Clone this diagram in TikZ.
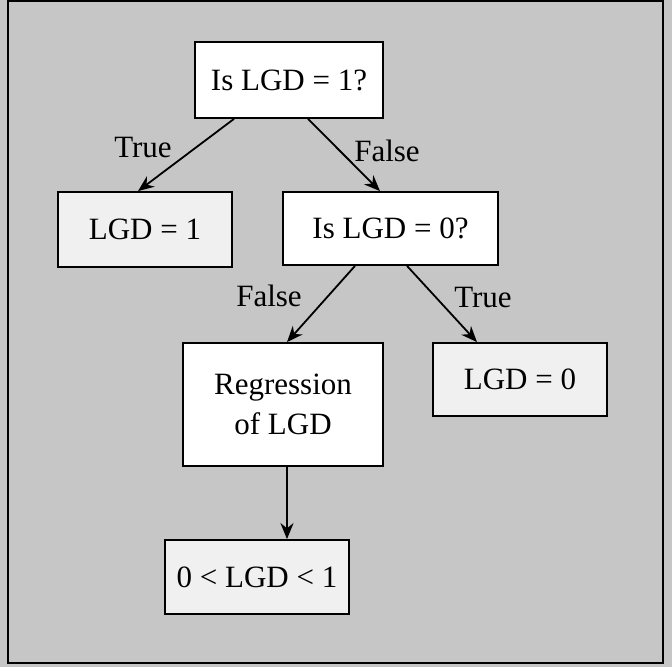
\documentclass[tikz,border=0pt]{standalone}
\usepackage{fontspec}
\setmainfont{Liberation Serif}
\usetikzlibrary{arrows.meta}
\begin{document}
\begin{tikzpicture}[x=1pt,y=-1pt,
  box/.style={draw=black,line width=1.8pt,fill=white,inner sep=0pt,align=center,font=\fontsize{31}{40}\selectfont},
  leaf/.style={box,fill=gray!12},
  lab/.style={font=\fontsize{31}{36}\selectfont},
  arr/.style={-{Stealth[length=16pt,width=13pt]},line width=1.8pt}]
\useasboundingbox (0,0) rectangle (672,667);
\fill[gray!45] (0,0) rectangle (672,667);
\draw[line width=1.5pt] (8,1) rectangle (663,663);
\node[box,minimum width=188,minimum height=76] (q1) at (289,80) {Is LGD = 1?};
\node[leaf,minimum width=174,minimum height=75] (l1) at (145,229.5) {LGD = 1};
\node[box,minimum width=215,minimum height=73] (q0) at (390.5,228.5) {Is LGD = 0?};
\node[box,minimum width=200,minimum height=123] (reg) at (283,404.5) {Regression\\of LGD};
\node[leaf,minimum width=174,minimum height=73] (l0) at (520,379.5) {LGD = 0};
\node[leaf,minimum width=184,minimum height=74] (mid) at (257,577) {0 < LGD < 1};
\draw[arr] (q1.south -| 234,0) -- (l1.north -| 138,0);
\draw[arr] (q1.south -| 308,0) -- (q0.north -| 380,0);
\draw[arr] (q0.south -| 355,0) -- (reg.north -| 287,0);
\draw[arr] (q0.south -| 407,0) -- (l0.north -| 477,0);
\draw[arr] (reg.south -| 287,0) -- (mid.north -| 287,0);
\node[lab] (t1) at (143,147) {True};
\node[lab] (f1) at (387,151) {False};
\node[lab] (f2) at (269,296) {False};
\node[lab] (t2) at (483,297) {True};
\end{tikzpicture}
\end{document}
